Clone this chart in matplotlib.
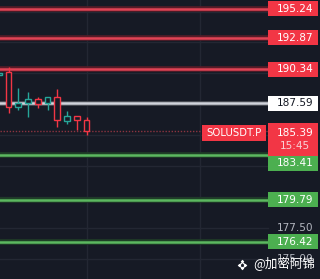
import matplotlib
matplotlib.use("Agg")
import matplotlib.pyplot as plt
from matplotlib.patches import Rectangle
from matplotlib.transforms import blended_transform_factory

# ---- data -------------------------------------------------------------
opens = [189.90, 190.09, 187.27, 187.59, 187.91, 187.59, 188.07, 186.16, 186.56, 186.24]
highs = [190.04, 190.49, 188.80, 188.53, 188.12, 188.10, 188.73, 186.99, 186.60, 186.51]
lows = [189.90, 186.81, 187.05, 186.51, 187.18, 187.05, 185.70, 185.92, 185.43, 185.03]
closes = [190.04, 187.31, 187.64, 187.91, 187.53, 188.07, 186.24, 186.56, 186.24, 185.39]

resistance = [195.24, 192.87, 190.34]
pivot = 187.59
support = [183.41, 179.79, 176.42]
last_price = 185.39
countdown = "15:45"
symbol = "SOLUSDT.P"
grid_prices = [195.00, 192.50, 190.00, 187.50, 185.00, 182.50, 180.00, 177.50, 175.00]
tick_labels = [182.50, 177.50, 175.00]   # scale labels not hidden by level tags
time_grid = [9, 20.6]
watermark = "@加密阿锦"

# ---- style ------------------------------------------------------------
BG = "#161a25"
GRID = "#232733"
UP = "#26a69a"
DOWN = "#f23645"
RED_LINE, RED_HALO = "#e04355", "#571c28"
GREEN_LINE, GREEN_HALO = "#5cb860", "#1f3f27"
GREEN_BOX = "#4caf50"
WHITE_LINE = "#d1d4dc"
TICK_TXT = "#b2b5be"

W, H = 320, 279
YMIN, YMAX = 173.41, 195.93
PPU = H / (YMAX - YMIN)          # pixels per price unit
CANDLE_PX, CANDLE_X0 = 9.75, -1.25
PLOT_RIGHT = 268 / W             # price scale starts here
SCALE_W = 50 / W
LABEL_X = PLOT_RIGHT + SCALE_W / 2 + 2 / W

fig = plt.figure(figsize=(W / 100, H / 100), dpi=100)
fig.patch.set_facecolor(BG)
ax = fig.add_axes([0, 0, 1, 1])
ax.set_facecolor(BG)
ax.set_axis_off()
ax.set_ylim(YMIN, YMAX)
ax.set_xlim(-CANDLE_X0 / CANDLE_PX, (W - CANDLE_X0) / CANDLE_PX)
bt = blended_transform_factory(ax.transAxes, ax.transData)


def px(n):
    return n / PPU


# grid
for p in grid_prices:
    ax.axhline(p, xmin=0, xmax=PLOT_RIGHT, color=GRID, lw=1, zorder=1)
for t in time_grid:
    ax.axvline(t, color=GRID, lw=1, zorder=1)

# key levels
for lvl in resistance:
    ax.axhline(lvl, xmax=PLOT_RIGHT, color=RED_HALO, lw=4, zorder=2)
    ax.axhline(lvl, xmax=PLOT_RIGHT, color=RED_LINE, lw=1.8, zorder=3)
for lvl in support:
    ax.axhline(lvl, xmax=PLOT_RIGHT, color=GREEN_HALO, lw=4, zorder=2)
    ax.axhline(lvl, xmax=PLOT_RIGHT, color=GREEN_LINE, lw=1.8, zorder=3)
ax.axhline(pivot, xmax=PLOT_RIGHT, color="#4a4d55", lw=3.5, zorder=2)
ax.axhline(pivot, xmax=PLOT_RIGHT, color=WHITE_LINE, lw=1.8, zorder=3)

# last price dotted line
ax.axhline(last_price, xmax=PLOT_RIGHT, color="#8c3440", lw=1,
           linestyle=(0, (1, 1.2)), zorder=2)

# hollow candles
bw = 0.6
for i, (o, h, l, c) in enumerate(zip(opens, highs, lows, closes)):
    col = UP if c >= o else DOWN
    top, bot = max(o, c), min(o, c)
    ax.plot([i, i], [top, h], color=col, lw=1, zorder=4, solid_capstyle="butt")
    ax.plot([i, i], [l, bot], color=col, lw=1, zorder=4, solid_capstyle="butt")
    ax.add_patch(Rectangle((i - bw / 2, bot), bw, max(top - bot, px(1)),
                           facecolor=BG, edgecolor=col, lw=1, zorder=5))

FS = 7.6
# price scale tick labels
for p in tick_labels:
    ax.text(LABEL_X, p, f"{p:.2f}", transform=bt,
            ha="center", va="center", color=TICK_TXT, fontsize=FS, zorder=6)


def price_box(center, label, face, txt_color, height=15):
    ax.add_patch(Rectangle((PLOT_RIGHT, center - px(height / 2)), SCALE_W, px(height),
                           transform=bt, facecolor=face, edgecolor="none", zorder=8,
                           clip_on=False))
    ax.text(LABEL_X, center, label, transform=bt,
            ha="center", va="center", color=txt_color, fontsize=FS, zorder=9)


for lvl in resistance:
    price_box(lvl, f"{lvl:.2f}", DOWN, "white")
price_box(pivot, f"{pivot:.2f}", "white", "#131722")
for lvl in support[1:]:
    price_box(lvl, f"{lvl:.2f}", GREEN_BOX, "white")

# last price box (price + countdown) and symbol tag
top_y = last_price + px(7.5)
ax.add_patch(Rectangle((PLOT_RIGHT, top_y - px(33)), SCALE_W, px(33), transform=bt,
                       facecolor=DOWN, edgecolor="none", zorder=8))
ax.text(LABEL_X, last_price - px(2), f"{last_price:.2f}",
        transform=bt, ha="center", va="center", color="white", fontsize=FS, zorder=9)
ax.text(LABEL_X, last_price - px(15.5), countdown,
        transform=bt, ha="center", va="center", color="#f8d0d4", fontsize=FS, zorder=9)
ax.add_patch(Rectangle((202 / W, last_price - px(10.5)), 64 / W, px(16), transform=bt,
                       facecolor=DOWN, edgecolor="none", zorder=8))
ax.text(234 / W, last_price - px(2.5), symbol, transform=bt, ha="center", va="center",
        color="white", fontsize=7.3, zorder=9)

# nearest support label is pushed below its line by the last price box
price_box(support[0] - px(8), f"{support[0]:.2f}", GREEN_BOX, "white")

# watermark
wy = 1 - 264.5 / H
ax.text(253 / W, wy, watermark, transform=fig.transFigure, ha="left", va="center",
        color="white", fontsize=9, family=["Noto Sans CJK SC", "DejaVu Sans"], zorder=10)
cx = 242 / W
d = 3.3
ax.plot([cx], [wy], marker="D", ms=3.2, mfc="none", mec="white", mew=0.9,
        transform=fig.transFigure, zorder=10)
for dx, dy in [(-d, 0), (d, 0), (0, -d), (0, d)]:
    ax.plot([cx + dx / W], [wy + dy / H], marker="D", ms=1.8, mfc="white", mec="none",
            transform=fig.transFigure, zorder=10)

fig.savefig("out.png", dpi=100, facecolor=BG)
